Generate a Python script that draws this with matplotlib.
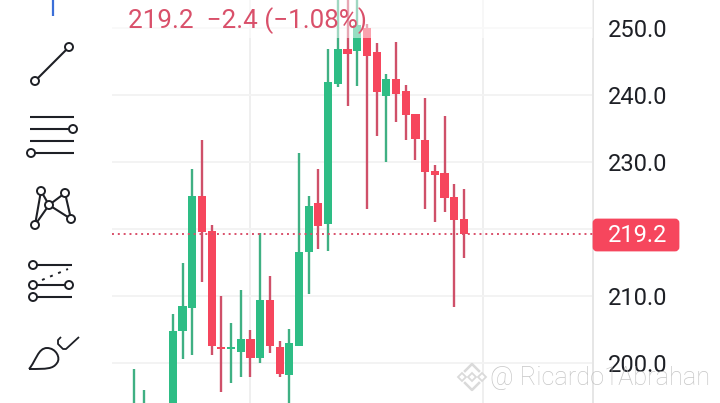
import matplotlib
matplotlib.use("Agg")
import matplotlib.pyplot as plt
from matplotlib.patches import FancyBboxPatch, Circle, PathPatch, Polygon, Rectangle
from matplotlib.path import Path

plt.rcParams['font.family'] = ['Roboto', 'DejaVu Sans']

# candles (index 2 and 3 sit below the visible range)
idx    = [0, 1, 4, 5, 6, 7, 8, 9, 10, 11, 12, 13, 14, 15, 16, 17, 18, 19, 20, 21, 22, 23, 24, 25, 26, 27, 28, 29, 30, 31, 32, 33, 34]
opens  = [192, 192, 192, 204.8, 208.2, 224.9, 219.7, 202.4, 202.1, 201.6, 203.6, 200.7, 209.4, 202.4, 198.2, 202.5, 216.6, 223.9, 220.7, 241.6, 246.9, 246.6, 250, 246.4, 239.9, 242.4, 240.6, 237.2, 233.3, 228.7, 228.4, 224.8, 221.5]
highs  = [199.1, 196, 207.3, 214.9, 229, 233.3, 220.6, 210, 206, 210.9, 204.9, 219.4, 213, 203.3, 205.1, 231.3, 224.9, 229, 246.9, 255, 255, 255, 250.6, 247.8, 243.1, 247.9, 241.5, 237.2, 239.6, 229.6, 236.9, 226.7, 226]
lows   = [191, 191, 191, 200.6, 201.2, 212.1, 201.2, 195.7, 197, 197.9, 197.9, 200, 201.5, 197.9, 192, 202.5, 210.3, 217, 216.7, 241.2, 238.4, 241.3, 223, 233.9, 230, 236, 233.3, 230.3, 223, 221, 222.5, 208.4, 215.7]
closes = [193, 193, 204.8, 208.5, 224.9, 219.6, 202.5, 202.1, 202.4, 203.6, 200.7, 209.4, 202.5, 198.4, 203, 216.6, 223.4, 220.4, 241.9, 246.9, 246.1, 250.4, 245.8, 240.4, 242.4, 240.1, 237, 233.4, 228.5, 228.1, 224.6, 221.3, 219.2]

price_ticks = [200, 210, 220, 230, 240, 250]
time_grid = [12, 36]
last_price = 219.2
header = "219.2  \u22122.4 (\u22121.08%)"
watermark = "@ Ricardo1Abrahan"

UP, DOWN = "#2EBD85", "#F6465D"
UP_WICK, DOWN_WICK = "#3FB083", "#CF5069"
INK = "#1E2026"

fig = plt.figure(figsize=(7.2, 4.03), dpi=100, facecolor="white")
ax = fig.add_axes([112/720, 0, 481/720, 1])
ax.set_xlim(-2.27, 47.3)
ax.set_ylim(194.03, 254.18)

ax.set_yticks(price_ticks)
ax.set_yticklabels([f"{p:.1f}" for p in price_ticks], fontsize=17, color=INK)
ax.yaxis.tick_right()
ax.tick_params(axis="y", length=0, pad=10.5)
ax.set_xticks(time_grid)
ax.tick_params(axis="x", length=0, labelbottom=False)
ax.grid(axis="y", color="#F3F3F3", linewidth=1.4)
ax.grid(axis="x", color="#EFEFEF", linewidth=1.4)
ax.set_axisbelow(True)
for s in ["top", "left", "bottom"]:
    ax.spines[s].set_visible(False)
ax.spines["right"].set_color("#E6E6E6")
ax.spines["right"].set_linewidth(1.4)

# wicks then bodies
wick_cols = [UP_WICK if c >= o else DOWN_WICK for o, c in zip(opens, closes)]
body_cols = [UP if c >= o else DOWN for o, c in zip(opens, closes)]
ax.vlines(idx, lows, highs, colors=wick_cols, linewidth=1.7, zorder=2)
ax.bar(idx, [c - o for o, c in zip(opens, closes)], bottom=opens, width=0.84, color=body_cols, linewidth=0, zorder=3)

ax.axhline(last_price, color="#D9506A", linewidth=1.4, linestyle=(0, (1, 2)), zorder=4)

# overlay in pixel coordinates for the toolbar, tag and watermark
ov = fig.add_axes([0, 0, 1, 1])
ov.set_xlim(0, 720)
ov.set_ylim(403, 0)
ov.axis("off")
ov.patch.set_alpha(0)

ov.add_patch(Rectangle((112, 0), 481, 38, facecolor="white", alpha=0.5, linewidth=0))
ov.text(128, 21, header, fontsize=18.7, color="#D9506A", va="center", ha="left")

ov.add_patch(FancyBboxPatch((594, 220), 84, 30, boxstyle="round,pad=0,rounding_size=3", facecolor=DOWN, linewidth=2, edgecolor=DOWN))
ov.text(638, 235, "219.2", fontsize=17, color="white", va="center", ha="center")


def seg(*pts, lw=1.5):
    ov.plot([p[0] for p in pts], [p[1] for p in pts], color=INK, linewidth=lw, solid_capstyle="butt", zorder=5)


def dot(x, y):
    ov.add_patch(Circle((x, y), 4, facecolor="white", edgecolor=INK, linewidth=1.4, zorder=6))


ov.plot([53, 53], [0, 16], color="#3B6FD8", linewidth=1.6, solid_capstyle="butt")

# trend line
seg((35, 81), (69, 47))
dot(35, 81); dot(69, 47)

# fib lines
seg((30, 117), (74, 117))
seg((30, 129), (73, 129))
seg((30, 141), (74, 141))
seg((31, 153), (74, 153))
dot(73, 129); dot(31, 153)

# pattern
seg((35, 225), (41, 191), (49, 205), (35, 225))
seg((49, 205), (65, 193), (71, 219), (49, 205))
for x, y in [(41, 191), (65, 193), (49, 205), (35, 225), (71, 219)]:
    dot(x, y)

# forecast
seg((33, 265), (72, 265))
seg((33, 285), (69, 285))
seg((33, 297), (72, 297))
ov.plot([42, 68], [280, 269], color=INK, linewidth=1.4, linestyle=(0, (1.5, 3)))
for x, y in [(33, 265), (33, 285), (69, 285), (33, 297)]:
    dot(x, y)

# brush
brush = Path([(29, 369), (36, 361), (38, 348), (47, 348), (56, 348), (61, 358), (57, 363), (53, 369), (47, 369), (29, 369)],
             [Path.MOVETO, Path.CURVE4, Path.CURVE4, Path.CURVE4, Path.CURVE4, Path.CURVE4, Path.CURVE4, Path.CURVE4, Path.CURVE4, Path.LINETO])
ov.add_patch(PathPatch(brush, facecolor="none", edgecolor=INK, linewidth=1.4))
seg((61, 337), (58, 340), (58, 344), (63, 349), (66, 349), (79, 337), lw=1.3)

# watermark
wm = "#DADADA"
for pts in [[(462, 373), (466, 377), (462, 381), (458, 377)],
            [(482, 373), (486, 377), (482, 381), (478, 377)],
            [(472, 373), (476, 377), (472, 381), (468, 377)]]:
    ov.add_patch(Polygon(pts, closed=True, facecolor="white", edgecolor=wm, linewidth=1.3, zorder=7))
ov.plot([465, 472, 479], [371, 364, 371], color=wm, linewidth=1.8, zorder=7)
ov.plot([465, 472, 479], [383, 390, 383], color=wm, linewidth=1.8, zorder=7)
ov.text(490, 378, watermark, fontsize=18.3, color="#BDBDBD", alpha=0.85, va="center", ha="left", fontweight="light", zorder=8)

fig.savefig("out.png", dpi=100)
